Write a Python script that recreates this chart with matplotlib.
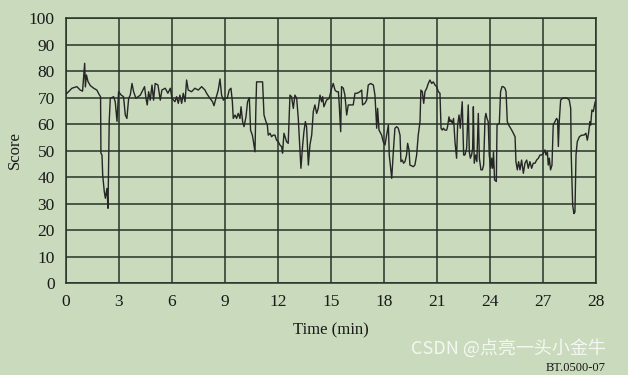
import matplotlib.pyplot as plt

# time axis: ticks spaced evenly, last one is labelled 28
tick_pos = [0, 3, 6, 9, 12, 15, 18, 21, 24, 27, 30]
tick_labels = ['0', '3', '6', '9', '12', '15', '18', '21', '24', '27', '28']
y_ticks = list(range(0, 101, 10))

time = [0, 0.34, 0.62, 0.81, 0.94, 1.06, 1.10, 1.16, 1.25, 1.38, 1.57, 1.75, 1.89, 1.96, 1.98,
        2.04, 2.08, 2.17, 2.23, 2.32, 2.38, 2.45, 2.51, 2.70, 2.79, 2.89, 2.98, 3.13, 3.26, 3.36,
        3.45, 3.55, 3.64, 3.74, 3.83, 3.96, 4.21, 4.34, 4.45, 4.53, 4.60, 4.68, 4.77, 4.87, 4.96,
        5.05, 5.21, 5.34, 5.43, 5.62, 5.77, 5.91, 6.00, 6.17, 6.26, 6.36, 6.45, 6.55, 6.64, 6.74,
        6.83, 6.92, 7.11, 7.30, 7.49, 7.68, 7.87, 7.96, 8.15, 8.30, 8.38, 8.49, 8.62, 8.72, 8.81,
        8.91, 9.00, 9.13, 9.24, 9.34, 9.42, 9.47, 9.57, 9.66, 9.75, 9.85, 9.91, 10.00, 10.08, 10.19,
        10.28, 10.38, 10.45, 10.55, 10.60, 10.70, 10.75, 10.79, 10.98, 11.13, 11.21, 11.32, 11.40,
        11.45, 11.55, 11.64, 11.73, 11.83, 11.92, 12.02, 12.11, 12.21, 12.26, 12.34, 12.49, 12.58,
        12.68, 12.77, 12.87, 12.96, 13.06, 13.15, 13.25, 13.30, 13.40, 13.47, 13.55, 13.62, 13.72,
        13.81, 13.91, 14.00, 14.09, 14.19, 14.28, 14.38, 14.47, 14.53, 14.60, 14.75, 14.90, 15.04,
        15.13, 15.23, 15.32, 15.42, 15.47, 15.55, 15.60, 15.70, 15.79, 15.89, 15.98, 16.08, 16.26,
        16.36, 16.49, 16.64, 16.74, 16.79, 16.92, 17.02, 17.11, 17.25, 17.40, 17.49, 17.59, 17.64,
        17.72, 17.87, 17.96, 18.06, 18.15, 18.25, 18.30, 18.38, 18.44, 18.53, 18.62, 18.72, 18.81,
        18.91, 18.96, 19.04, 19.11, 19.19, 19.28, 19.34, 19.42, 19.47, 19.66, 19.75, 19.85, 19.94,
        20.04, 20.09, 20.17, 20.25, 20.32, 20.42, 20.51, 20.60, 20.70, 20.79, 20.89, 20.98, 21.08,
        21.17, 21.23, 21.30, 21.36, 21.45, 21.55, 21.60, 21.68, 21.74, 21.79, 21.87, 21.94, 22.02,
        22.11, 22.17, 22.25, 22.32, 22.40, 22.43, 22.51, 22.58, 22.68, 22.77, 22.83, 22.89, 22.96,
        23.02, 23.06, 23.11, 23.19, 23.26, 23.34, 23.40, 23.49, 23.57, 23.64, 23.72, 23.77, 23.83,
        23.90, 23.96, 24.04, 24.09, 24.15, 24.20, 24.26, 24.36, 24.40, 24.53, 24.60, 24.68, 24.75,
        24.85, 24.91, 24.98, 25.06, 25.17, 25.28, 25.42, 25.47, 25.55, 25.62, 25.70, 25.79, 25.89,
        25.98, 26.08, 26.17, 26.26, 26.36, 26.45, 26.55, 26.64, 26.74, 26.83, 26.93, 27.02, 27.11,
        27.17, 27.25, 27.30, 27.36, 27.43, 27.51, 27.58, 27.68, 27.77, 27.83, 27.87, 27.92, 28.00,
        28.11, 28.25, 28.38, 28.49, 28.57, 28.60, 28.68, 28.75, 28.81, 28.87, 28.94, 29.06, 29.19,
        29.32, 29.43, 29.51, 29.58, 29.66, 29.70, 29.77, 29.85, 29.92, 29.96]

score = [71.2, 73.5, 74.1, 72.8, 72.4, 82.9, 74.0, 78.5, 76.0, 74.5, 73.5, 72.8, 71.0, 70.3, 49.0,
         48.3, 40.8, 34.5, 32.0, 35.7, 28.2, 61.0, 69.7, 70.3, 68.4, 61.0, 72.2, 70.9, 70.3, 63.4,
         62.1, 69.7, 70.9, 75.3, 72.2, 69.7, 70.9, 72.6, 74.1, 69.7, 67.2, 72.2, 69.0, 74.7, 69.0,
         75.3, 74.7, 69.0, 72.8, 73.5, 71.6, 73.5, 69.7, 68.4, 70.3, 67.8, 70.9, 67.8, 71.6, 68.4,
         76.6, 72.8, 72.2, 73.5, 72.8, 74.1, 72.8, 71.6, 69.7, 68.4, 66.9, 69.7, 72.8, 77.0, 70.9,
         69.0, 69.7, 69.7, 72.8, 73.5, 68.4, 62.1, 63.4, 62.1, 64.0, 62.1, 66.5, 60.9, 59.0, 62.7,
         68.4, 69.9, 57.7, 55.8, 53.9, 49.5, 65.9, 75.9, 75.9, 75.9, 63.4, 60.9, 59.6,
         55.8, 56.5, 55.2, 55.8, 55.8, 53.9, 53.3, 52.1, 51.4, 49.0, 56.5, 53.3, 52.7,
         70.9, 70.3, 65.9, 70.9, 69.7, 62.1, 49.5, 43.3, 52.1, 57.1, 60.9, 59.0, 44.5,
         52.1, 55.8, 64.7, 67.2, 64.0, 65.9, 70.9, 68.4, 70.3, 66.5, 69.0, 69.7, 73.5,
         75.3, 72.8, 72.2, 72.2, 67.2, 57.1, 74.1, 73.5, 70.9, 63.4, 67.2, 67.2, 67.2,
         71.6, 71.6, 72.2, 72.8, 67.2, 67.8, 69.0, 74.7, 75.3, 74.7, 70.9, 58.4, 65.9,
         57.7, 55.8, 53.3, 52.1, 55.8, 59.6, 48.3, 43.3, 39.5, 49.5, 58.4, 59.0, 58.4,
         55.8, 45.8, 46.4, 45.2, 45.8, 48.3, 52.7, 50.2, 44.5, 43.9, 44.5, 48.3, 55.8,
         60.9, 72.8, 72.2, 67.8, 72.2, 73.5, 75.3, 76.6, 75.3, 75.9, 74.7, 74.1, 72.2,
         71.6, 58.4, 57.7, 58.4, 57.7, 57.7, 59.0, 62.7, 60.9, 61.5, 60.3, 62.1, 53.3,
         47.1, 59.6, 63.4, 58.4, 65.9, 68.4, 48.3, 48.3, 50.8, 67.2, 49.5, 47.1, 48.3,
         50.8, 66.5, 45.2, 48.3, 45.8, 64.0, 47.1, 42.7, 42.7, 44.5, 62.1, 64.0, 62.1,
         60.9, 48.3, 43.3, 47.1, 43.3, 49.5, 38.9, 38.3, 59.6, 60.3, 72.2, 74.1, 74.1,
         73.5, 72.2, 60.9, 59.6, 58.4, 57.1, 55.2, 45.8, 42.7, 45.8, 42.7, 46.4, 41.4,
         45.2, 46.4, 43.3, 45.8, 43.3, 45.2, 45.2, 46.4, 47.1, 48.3, 48.3, 48.9, 50.2,
         48.3, 49.5, 44.5, 47.1, 42.7, 44.5, 59.6, 60.9, 62.1, 61.5, 51.5, 60.9, 69.0,
         69.7, 69.9, 69.7, 69.0, 65.9, 48.3, 29.4, 26.2, 26.8, 48.3, 53.3, 55.2, 55.8,
         55.8, 56.5, 53.9, 56.5, 60.9, 59.6, 65.3, 64.7, 67.2, 68.4]

bg = '#c9dabd'
plt.rcParams['font.family'] = ['Liberation Serif', 'DejaVu Serif']

fig = plt.figure(figsize=(6.28, 3.75), dpi=100, facecolor=bg)
ax = fig.add_axes([0.105, 0.2453, 0.844, 0.7067])
ax.set_facecolor(bg)

ax.plot(time, score, color='#262626', linewidth=1.0, zorder=3)

ax.set_xlim(0, 30)
ax.set_ylim(0, 100)
ax.set_xticks(tick_pos)
ax.set_xticklabels(tick_labels)
ax.set_yticks(y_ticks)
ax.tick_params(length=0, labelsize=12.5, colors='#1a1a1a', pad=8)
ax.grid(True, color='#283228', linewidth=1.1, zorder=1)
for s in ax.spines.values():
    s.set_color('#283228')
    s.set_linewidth(1.1)

ax.set_xlabel('Time (min)', fontsize=12, labelpad=9, color='#1a1a1a')
ax.set_ylabel('Score', fontsize=12, labelpad=4, color='#1a1a1a')

# figure code and watermark in the bottom right corner
fig.text(0.916, 0.019, 'BT.0500-07', fontsize=9, ha='center', va='center', color='#1a1a1a')
fig.text(0.81, 0.07, 'CSDN @点亮一头小金牛', fontsize=13, ha='center', va='center',
         color='white', alpha=0.8, family=['Noto Sans CJK SC', 'DejaVu Sans'])

fig.savefig('out.png', dpi=100, facecolor=bg)
